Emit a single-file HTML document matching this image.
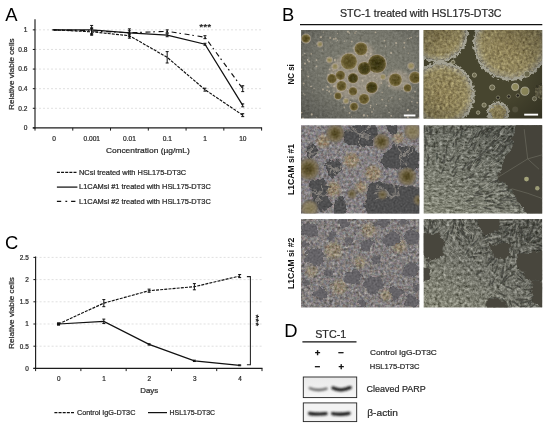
<!DOCTYPE html>
<html lang="en"><head><meta charset="utf-8"><title>Figure</title>
<style>html,body{margin:0;padding:0;background:#fff}svg{display:block;font-family:'Liberation Sans', sans-serif}</style>
</head><body>
<svg width="550" height="428" viewBox="0 0 550 428">
<defs>
<filter id="blur05" x="-20%" y="-20%" width="140%" height="140%"><feGaussianBlur stdDeviation="0.5"/></filter>
<filter id="blur1" x="-20%" y="-20%" width="140%" height="140%"><feGaussianBlur stdDeviation="0.9"/></filter>
<filter id="blur15" x="-20%" y="-20%" width="140%" height="140%"><feGaussianBlur stdDeviation="1.6"/></filter>
<filter id="n00" x="0" y="0" width="100%" height="100%" color-interpolation-filters="sRGB"><feTurbulence type="fractalNoise" baseFrequency="0.4" numOctaves="2" seed="3" result="n"/>
<feColorMatrix in="n" type="matrix" values="0.34 0.33 0.33 0 0  0.34 0.33 0.33 0 0  0.34 0.33 0.33 0 0  0 0 0 0 1" result="g"/>
<feComposite in="SourceGraphic" in2="g" operator="arithmetic" k1="0" k2="1" k3="0.3" k4="-0.15" result="c"/><feComposite in="c" in2="SourceAlpha" operator="in"/></filter>
<filter id="n01" x="0" y="0" width="100%" height="100%" color-interpolation-filters="sRGB"><feTurbulence type="fractalNoise" baseFrequency="0.35" numOctaves="3" seed="5" result="n"/>
<feColorMatrix in="n" type="matrix" values="0.36 0.34 0.3 0 0  0.36 0.34 0.3 0 0  0.3 0.3 0.2 0 0.1  0 0 0 0 1" result="g"/>
<feComposite in="SourceGraphic" in2="g" operator="arithmetic" k1="0" k2="1" k3="0.75" k4="-0.375" result="c"/><feComposite in="c" in2="SourceAlpha" operator="in"/></filter>
<filter id="n10" x="0" y="0" width="100%" height="100%" color-interpolation-filters="sRGB"><feTurbulence type="fractalNoise" baseFrequency="0.37" numOctaves="3" seed="7" result="n"/>
<feColorMatrix in="n" type="matrix" values="0.42 0.32 0.26 0 0  0.29 0.42 0.29 0 0  0.26 0.32 0.42 0 0  0 0 0 0 1" result="g"/>
<feComposite in="SourceGraphic" in2="g" operator="arithmetic" k1="0" k2="1" k3="0.8" k4="-0.4" result="c"/><feComposite in="c" in2="SourceAlpha" operator="in"/></filter>
<filter id="n10b" x="0" y="0" width="100%" height="100%" color-interpolation-filters="sRGB"><feTurbulence type="fractalNoise" baseFrequency="0.5" numOctaves="2" seed="9" result="n"/>
<feColorMatrix in="n" type="matrix" values="0.34 0.33 0.33 0 0  0.34 0.33 0.33 0 0  0.34 0.33 0.33 0 0  0 0 0 0 1" result="g"/>
<feComposite in="SourceGraphic" in2="g" operator="arithmetic" k1="0" k2="1" k3="0.3" k4="-0.15" result="c"/><feComposite in="c" in2="SourceAlpha" operator="in"/></filter>
<filter id="n11" x="0" y="0" width="100%" height="100%" color-interpolation-filters="sRGB"><feTurbulence type="fractalNoise" baseFrequency="0.28 0.42" numOctaves="3" seed="11" result="n"/>
<feColorMatrix in="n" type="matrix" values="0.34 0.33 0.33 0 0  0.34 0.33 0.33 0 0  0.34 0.33 0.33 0 0  0 0 0 0 1" result="g"/>
<feComposite in="SourceGraphic" in2="g" operator="arithmetic" k1="0" k2="1" k3="1.0" k4="-0.5" result="c"/><feComposite in="c" in2="SourceAlpha" operator="in"/></filter>
<filter id="n20" x="0" y="0" width="100%" height="100%" color-interpolation-filters="sRGB"><feTurbulence type="fractalNoise" baseFrequency="0.37" numOctaves="3" seed="13" result="n"/>
<feColorMatrix in="n" type="matrix" values="0.42 0.32 0.26 0 0  0.29 0.42 0.29 0 0  0.26 0.32 0.42 0 0  0 0 0 0 1" result="g"/>
<feComposite in="SourceGraphic" in2="g" operator="arithmetic" k1="0" k2="1" k3="0.8" k4="-0.4" result="c"/><feComposite in="c" in2="SourceAlpha" operator="in"/></filter>
<filter id="n21" x="0" y="0" width="100%" height="100%" color-interpolation-filters="sRGB"><feTurbulence type="fractalNoise" baseFrequency="0.34" numOctaves="3" seed="17" result="n"/>
<feColorMatrix in="n" type="matrix" values="0.34 0.33 0.33 0 0  0.34 0.33 0.33 0 0  0.34 0.33 0.33 0 0  0 0 0 0 1" result="g"/>
<feComposite in="SourceGraphic" in2="g" operator="arithmetic" k1="0" k2="1" k3="1.0" k4="-0.5" result="c"/><feComposite in="c" in2="SourceAlpha" operator="in"/></filter>
<filter id="rough" x="-10%" y="-10%" width="120%" height="120%" color-interpolation-filters="sRGB"><feTurbulence type="fractalNoise" baseFrequency="0.13" numOctaves="3" seed="21" result="t"/><feDisplacementMap in="SourceGraphic" in2="t" scale="9" xChannelSelector="R" yChannelSelector="G" result="d"/><feGaussianBlur in="d" stdDeviation="0.55"/></filter>
<filter id="rough2" x="-10%" y="-10%" width="120%" height="120%" color-interpolation-filters="sRGB"><feTurbulence type="fractalNoise" baseFrequency="0.3" numOctaves="2" seed="31" result="t"/><feDisplacementMap in="SourceGraphic" in2="t" scale="5" xChannelSelector="R" yChannelSelector="G" result="d"/><feGaussianBlur in="d" stdDeviation="0.5"/></filter>
<linearGradient id="blotbg" x1="0" y1="0" x2="0" y2="1"><stop offset="0" stop-color="#e9e9e9"/><stop offset="1" stop-color="#f6f6f6"/></linearGradient>
<radialGradient id="vig" cx="0.45" cy="0.5" r="0.75"><stop offset="0.5" stop-color="#000" stop-opacity="0"/><stop offset="1" stop-color="#000" stop-opacity="0.3"/></radialGradient>
<filter id="blur07" x="-20%" y="-20%" width="140%" height="140%"><feGaussianBlur stdDeviation="0.7"/></filter>
<radialGradient id="bg00" cx="0.55" cy="0.42" r="0.72"><stop offset="0" stop-color="#7e7e71"/><stop offset="0.55" stop-color="#75756b"/><stop offset="1" stop-color="#5a5a54"/></radialGradient>
<radialGradient id="sphA" cx="0.5" cy="0.5" r="0.5"><stop offset="0" stop-color="#554b22"/><stop offset="0.7" stop-color="#665a2e"/><stop offset="1" stop-color="#82764a"/></radialGradient>
<radialGradient id="sphB" cx="0.5" cy="0.5" r="0.5"><stop offset="0" stop-color="#383412"/><stop offset="0.7" stop-color="#4a431c"/><stop offset="1" stop-color="#70643a"/></radialGradient>
<radialGradient id="sphC" cx="0.5" cy="0.5" r="0.5"><stop offset="0" stop-color="#8c8050"/><stop offset="1" stop-color="#a09672"/></radialGradient>
<radialGradient id="sphD" cx="0.5" cy="0.5" r="0.5"><stop offset="0" stop-color="#4c4322"/><stop offset="0.55" stop-color="#5e532e"/><stop offset="1" stop-color="#83775a"/></radialGradient>
<radialGradient id="sphE" cx="0.5" cy="0.5" r="0.5"><stop offset="0" stop-color="#7d7250"/><stop offset="0.6" stop-color="#877c5c"/><stop offset="1" stop-color="#8f866e"/></radialGradient>
<radialGradient id="tan" cx="0.5" cy="0.5" r="0.5"><stop offset="0" stop-color="#8d8056"/><stop offset="0.8" stop-color="#92875e"/><stop offset="1" stop-color="#9b9680"/></radialGradient>
<linearGradient id="bg11" x1="0" y1="1" x2="0.8" y2="0"><stop offset="0" stop-color="#878979"/><stop offset="0.5" stop-color="#73756b"/><stop offset="1" stop-color="#565851"/></linearGradient>
<linearGradient id="bg21" x1="0.1" y1="1" x2="0.9" y2="0"><stop offset="0" stop-color="#888979"/><stop offset="0.45" stop-color="#73746b"/><stop offset="1" stop-color="#595a53"/></linearGradient>
</defs>
<rect width="550" height="428" fill="#fff"/>
<g id="panelA">
<text x="5.2" y="21.0" font-size="18.4" text-anchor="start" fill="#000" >A</text>
<line x1="35.0" x2="261.6" y1="108.29" y2="108.29" stroke="#d2d2d2" stroke-width="0.7" stroke-dasharray="2 2"/>
<line x1="35.0" x2="261.6" y1="88.68" y2="88.68" stroke="#d2d2d2" stroke-width="0.7" stroke-dasharray="2 2"/>
<line x1="35.0" x2="261.6" y1="69.07" y2="69.07" stroke="#d2d2d2" stroke-width="0.7" stroke-dasharray="2 2"/>
<line x1="35.0" x2="261.6" y1="49.46" y2="49.46" stroke="#d2d2d2" stroke-width="0.7" stroke-dasharray="2 2"/>
<line x1="35.0" x2="261.6" y1="29.85" y2="29.85" stroke="#d2d2d2" stroke-width="0.7" stroke-dasharray="2 2"/>
<line x1="35.0" x2="35.0" y1="19.3" y2="128.45000000000002" stroke="#1c1c1c" stroke-width="1.15"/>
<line x1="32.8" x2="262.1" y1="127.9" y2="127.9" stroke="#1c1c1c" stroke-width="1.15"/>
<line x1="35.00" x2="35.00" y1="127.9" y2="130.6" stroke="#1c1c1c" stroke-width="1"/>
<line x1="72.77" x2="72.77" y1="127.9" y2="130.6" stroke="#1c1c1c" stroke-width="1"/>
<line x1="110.53" x2="110.53" y1="127.9" y2="130.6" stroke="#1c1c1c" stroke-width="1"/>
<line x1="148.30" x2="148.30" y1="127.9" y2="130.6" stroke="#1c1c1c" stroke-width="1"/>
<line x1="186.07" x2="186.07" y1="127.9" y2="130.6" stroke="#1c1c1c" stroke-width="1"/>
<line x1="223.83" x2="223.83" y1="127.9" y2="130.6" stroke="#1c1c1c" stroke-width="1"/>
<line x1="261.60" x2="261.60" y1="127.9" y2="130.6" stroke="#1c1c1c" stroke-width="1"/>
<line x1="32.8" x2="35.0" y1="127.90" y2="127.90" stroke="#1c1c1c" stroke-width="1"/>
<text x="27.5" y="130.25" font-size="6.6" text-anchor="end" fill="#2a2a2a" stroke="#2a2a2a" stroke-width="0.22" >0</text>
<line x1="32.8" x2="35.0" y1="108.29" y2="108.29" stroke="#1c1c1c" stroke-width="1"/>
<text x="27.5" y="110.64" font-size="6.6" text-anchor="end" fill="#2a2a2a" stroke="#2a2a2a" stroke-width="0.22" >0.2</text>
<line x1="32.8" x2="35.0" y1="88.68" y2="88.68" stroke="#1c1c1c" stroke-width="1"/>
<text x="27.5" y="91.03" font-size="6.6" text-anchor="end" fill="#2a2a2a" stroke="#2a2a2a" stroke-width="0.22" >0.4</text>
<line x1="32.8" x2="35.0" y1="69.07" y2="69.07" stroke="#1c1c1c" stroke-width="1"/>
<text x="27.5" y="71.42" font-size="6.6" text-anchor="end" fill="#2a2a2a" stroke="#2a2a2a" stroke-width="0.22" >0.6</text>
<line x1="32.8" x2="35.0" y1="49.46" y2="49.46" stroke="#1c1c1c" stroke-width="1"/>
<text x="27.5" y="51.81" font-size="6.6" text-anchor="end" fill="#2a2a2a" stroke="#2a2a2a" stroke-width="0.22" >0.8</text>
<line x1="32.8" x2="35.0" y1="29.85" y2="29.85" stroke="#1c1c1c" stroke-width="1"/>
<text x="27.5" y="32.2" font-size="6.6" text-anchor="end" fill="#2a2a2a" stroke="#2a2a2a" stroke-width="0.22" >1</text>
<text x="53.98" y="141.2" font-size="6.6" text-anchor="middle" fill="#2a2a2a" stroke="#2a2a2a" stroke-width="0.22" >0</text>
<text x="91.75" y="141.2" font-size="6.6" text-anchor="middle" fill="#2a2a2a" stroke="#2a2a2a" stroke-width="0.22" >0.001</text>
<text x="129.52" y="141.2" font-size="6.6" text-anchor="middle" fill="#2a2a2a" stroke="#2a2a2a" stroke-width="0.22" >0.01</text>
<text x="167.28" y="141.2" font-size="6.6" text-anchor="middle" fill="#2a2a2a" stroke="#2a2a2a" stroke-width="0.22" >0.1</text>
<text x="205.05" y="141.2" font-size="6.6" text-anchor="middle" fill="#2a2a2a" stroke="#2a2a2a" stroke-width="0.22" >1</text>
<text x="242.82" y="141.2" font-size="6.6" text-anchor="middle" fill="#2a2a2a" stroke="#2a2a2a" stroke-width="0.22" >10</text>
<text x="106.0" y="152.8" font-size="7.8" text-anchor="start" fill="#2a2a2a" stroke="#2a2a2a" stroke-width="0.22" textLength="83.8" lengthAdjust="spacingAndGlyphs" >Concentration (µg/mL)</text>
<text x="13.6" y="74.2" font-size="7.5" text-anchor="middle" fill="#2a2a2a" stroke="#2a2a2a" stroke-width="0.22" textLength="71.6" lengthAdjust="spacingAndGlyphs" transform="rotate(-90 13.6 74.2)" >Relative viable cells</text>
<polyline points="53.88,29.85 91.65,31.81 129.42,35.73 167.18,57.30 204.95,89.66 242.72,115.15" fill="none" stroke="#111" stroke-width="1.15" stroke-dasharray="3 1.15"/>
<polyline points="53.88,29.85 91.65,29.85 129.42,32.79 167.18,35.24 204.95,44.26 242.72,105.35" fill="none" stroke="#111" stroke-width="1.25"/>
<polyline points="53.88,29.85 91.65,30.83 129.42,32.79 167.18,31.32 204.95,37.20 242.72,88.68" fill="none" stroke="#111" stroke-width="1.15" stroke-dasharray="5 2.8 1.6 3.7"/>
<path d="M52.38 29.85h3" stroke="#111" stroke-width="1.5"/>
<path d="M91.65 28.38V35.24M90.15 28.38h3.0M90.15 35.24h3.0" stroke="#111" stroke-width="1.0" fill="none"/>
<path d="M129.42 33.28V38.18M127.92 33.28h3.0M127.92 38.18h3.0" stroke="#111" stroke-width="1.0" fill="none"/>
<path d="M167.18 51.62V62.99M165.68 51.62h3.0M165.68 62.99h3.0" stroke="#111" stroke-width="1.0" fill="none"/>
<path d="M204.95 88.19V91.13M203.45 88.19h3.0M203.45 91.13h3.0" stroke="#111" stroke-width="1.0" fill="none"/>
<path d="M242.72 113.68V116.62M241.22 113.68h3.0M241.22 116.62h3.0" stroke="#111" stroke-width="1.0" fill="none"/>
<path d="M91.65 25.44V34.26M90.15 25.44h3.0M90.15 34.26h3.0" stroke="#111" stroke-width="1.0" fill="none"/>
<path d="M129.42 28.87V36.71M127.92 28.87h3.0M127.92 36.71h3.0" stroke="#111" stroke-width="1.0" fill="none"/>
<path d="M167.18 33.77V36.71M165.68 33.77h3.0M165.68 36.71h3.0" stroke="#111" stroke-width="1.0" fill="none"/>
<path d="M204.95 43.28V45.24M203.45 43.28h3.0M203.45 45.24h3.0" stroke="#111" stroke-width="1.0" fill="none"/>
<path d="M242.72 103.88V106.82M241.22 103.88h3.0M241.22 106.82h3.0" stroke="#111" stroke-width="1.0" fill="none"/>
<path d="M91.65 27.89V33.77M90.15 27.89h3.0M90.15 33.77h3.0" stroke="#111" stroke-width="1.0" fill="none"/>
<path d="M129.42 30.83V34.75M127.92 30.83h3.0M127.92 34.75h3.0" stroke="#111" stroke-width="1.0" fill="none"/>
<path d="M167.18 29.85V32.79M165.68 29.85h3.0M165.68 32.79h3.0" stroke="#111" stroke-width="1.0" fill="none"/>
<path d="M204.95 35.73V38.67M203.45 35.73h3.0M203.45 38.67h3.0" stroke="#111" stroke-width="1.0" fill="none"/>
<path d="M242.72 85.74V91.62M241.22 85.74h3.0M241.22 91.62h3.0" stroke="#111" stroke-width="1.0" fill="none"/>
<text x="205.2" y="30.0" font-size="8.6" text-anchor="middle" fill="#222" textLength="11.8" lengthAdjust="spacingAndGlyphs" font-weight="bold" >***</text>
<line x1="56.9" x2="77.6" y1="172.4" y2="172.4" stroke="#111" stroke-width="1.15" stroke-dasharray="3 1.15"/>
<line x1="56.9" x2="77.4" y1="187.1" y2="187.1" stroke="#111" stroke-width="1.25"/>
<line x1="56.9" x2="77.6" y1="201.4" y2="201.4" stroke="#111" stroke-width="1.15" stroke-dasharray="4.3 4.2 1.8 3.9"/>
<text x="79.0" y="174.7" font-size="7.0" text-anchor="start" fill="#2a2a2a" stroke="#2a2a2a" stroke-width="0.22" textLength="107.2" lengthAdjust="spacingAndGlyphs" >NCsi treated with HSL175-DT3C</text>
<text x="79.0" y="189.4" font-size="7.0" text-anchor="start" fill="#2a2a2a" stroke="#2a2a2a" stroke-width="0.22" textLength="131.8" lengthAdjust="spacingAndGlyphs" >L1CAMsi #1 treated with HSL175-DT3C</text>
<text x="79.0" y="203.6" font-size="7.0" text-anchor="start" fill="#2a2a2a" stroke="#2a2a2a" stroke-width="0.22" textLength="131.8" lengthAdjust="spacingAndGlyphs" >L1CAMsi #2 treated with HSL175-DT3C</text>
</g>
<g id="panelC">
<text x="5.0" y="248.9" font-size="18.4" text-anchor="start" fill="#000" >C</text>
<line x1="35.6" x2="262.0" y1="346.20" y2="346.20" stroke="#d2d2d2" stroke-width="0.7" stroke-dasharray="2 2"/>
<line x1="35.6" x2="262.0" y1="324.00" y2="324.00" stroke="#d2d2d2" stroke-width="0.7" stroke-dasharray="2 2"/>
<line x1="35.6" x2="262.0" y1="301.80" y2="301.80" stroke="#d2d2d2" stroke-width="0.7" stroke-dasharray="2 2"/>
<line x1="35.6" x2="262.0" y1="279.60" y2="279.60" stroke="#d2d2d2" stroke-width="0.7" stroke-dasharray="2 2"/>
<line x1="35.6" x2="262.0" y1="257.40" y2="257.40" stroke="#d2d2d2" stroke-width="0.7" stroke-dasharray="2 2"/>
<line x1="35.6" x2="35.6" y1="256.5" y2="368.95" stroke="#1c1c1c" stroke-width="1.15"/>
<line x1="33.4" x2="262.5" y1="368.4" y2="368.4" stroke="#1c1c1c" stroke-width="1.15"/>
<line x1="35.60" x2="35.60" y1="368.4" y2="371.09999999999997" stroke="#1c1c1c" stroke-width="1"/>
<line x1="80.88" x2="80.88" y1="368.4" y2="371.09999999999997" stroke="#1c1c1c" stroke-width="1"/>
<line x1="126.16" x2="126.16" y1="368.4" y2="371.09999999999997" stroke="#1c1c1c" stroke-width="1"/>
<line x1="171.44" x2="171.44" y1="368.4" y2="371.09999999999997" stroke="#1c1c1c" stroke-width="1"/>
<line x1="216.72" x2="216.72" y1="368.4" y2="371.09999999999997" stroke="#1c1c1c" stroke-width="1"/>
<line x1="262.00" x2="262.00" y1="368.4" y2="371.09999999999997" stroke="#1c1c1c" stroke-width="1"/>
<line x1="33.4" x2="35.6" y1="368.40" y2="368.40" stroke="#1c1c1c" stroke-width="1"/>
<text x="28.7" y="370.7" font-size="6.4" text-anchor="end" fill="#2a2a2a" stroke="#2a2a2a" stroke-width="0.22" >0</text>
<line x1="33.4" x2="35.6" y1="346.20" y2="346.20" stroke="#1c1c1c" stroke-width="1"/>
<text x="28.7" y="348.5" font-size="6.4" text-anchor="end" fill="#2a2a2a" stroke="#2a2a2a" stroke-width="0.22" >0.5</text>
<line x1="33.4" x2="35.6" y1="324.00" y2="324.00" stroke="#1c1c1c" stroke-width="1"/>
<text x="28.7" y="326.3" font-size="6.4" text-anchor="end" fill="#2a2a2a" stroke="#2a2a2a" stroke-width="0.22" >1</text>
<line x1="33.4" x2="35.6" y1="301.80" y2="301.80" stroke="#1c1c1c" stroke-width="1"/>
<text x="28.7" y="304.1" font-size="6.4" text-anchor="end" fill="#2a2a2a" stroke="#2a2a2a" stroke-width="0.22" >1.5</text>
<line x1="33.4" x2="35.6" y1="279.60" y2="279.60" stroke="#1c1c1c" stroke-width="1"/>
<text x="28.7" y="281.9" font-size="6.4" text-anchor="end" fill="#2a2a2a" stroke="#2a2a2a" stroke-width="0.22" >2</text>
<line x1="33.4" x2="35.6" y1="257.40" y2="257.40" stroke="#1c1c1c" stroke-width="1"/>
<text x="28.7" y="259.7" font-size="6.4" text-anchor="end" fill="#2a2a2a" stroke="#2a2a2a" stroke-width="0.22" >2.5</text>
<text x="58.84" y="380.6" font-size="6.4" text-anchor="middle" fill="#2a2a2a" stroke="#2a2a2a" stroke-width="0.22" >0</text>
<text x="104.12" y="380.6" font-size="6.4" text-anchor="middle" fill="#2a2a2a" stroke="#2a2a2a" stroke-width="0.22" >1</text>
<text x="149.4" y="380.6" font-size="6.4" text-anchor="middle" fill="#2a2a2a" stroke="#2a2a2a" stroke-width="0.22" >2</text>
<text x="194.68" y="380.6" font-size="6.4" text-anchor="middle" fill="#2a2a2a" stroke="#2a2a2a" stroke-width="0.22" >3</text>
<text x="239.96" y="380.6" font-size="6.4" text-anchor="middle" fill="#2a2a2a" stroke="#2a2a2a" stroke-width="0.22" >4</text>
<text x="140.2" y="393.4" font-size="7.6" text-anchor="start" fill="#2a2a2a" stroke="#2a2a2a" stroke-width="0.22" textLength="18.0" lengthAdjust="spacingAndGlyphs" >Days</text>
<text x="14.2" y="313.0" font-size="7.5" text-anchor="middle" fill="#2a2a2a" stroke="#2a2a2a" stroke-width="0.22" textLength="71.8" lengthAdjust="spacingAndGlyphs" transform="rotate(-90 14.2 313.0)" >Relative viable cells</text>
<polyline points="58.54,324.00 103.82,303.13 149.10,290.70 194.38,286.70 239.66,276.05" fill="none" stroke="#111" stroke-width="1.15" stroke-dasharray="3 1.15"/>
<polyline points="58.54,324.00 103.82,321.34 149.10,344.42 194.38,360.85 239.66,365.29" fill="none" stroke="#111" stroke-width="1.25"/>
<path d="M58.54 323.11V324.89M57.04 323.11h3.0M57.04 324.89h3.0" stroke="#111" stroke-width="1.0" fill="none"/>
<path d="M103.82 299.58V306.68M102.32 299.58h3.0M102.32 306.68h3.0" stroke="#111" stroke-width="1.0" fill="none"/>
<path d="M149.10 289.15V292.25M147.60 289.15h3.0M147.60 292.25h3.0" stroke="#111" stroke-width="1.0" fill="none"/>
<path d="M194.38 283.60V289.81M192.88 283.60h3.0M192.88 289.81h3.0" stroke="#111" stroke-width="1.0" fill="none"/>
<path d="M239.66 274.49V277.60M238.16 274.49h3.0M238.16 277.60h3.0" stroke="#111" stroke-width="1.0" fill="none"/>
<path d="M58.54 323.11V324.89M57.04 323.11h3.0M57.04 324.89h3.0" stroke="#111" stroke-width="1.0" fill="none"/>
<path d="M103.82 319.12V323.56M102.32 319.12h3.0M102.32 323.56h3.0" stroke="#111" stroke-width="1.0" fill="none"/>
<path d="M149.10 343.76V345.09M147.60 343.76h3.0M147.60 345.09h3.0" stroke="#111" stroke-width="1.0" fill="none"/>
<path d="M194.38 360.19V361.52M192.88 360.19h3.0M192.88 361.52h3.0" stroke="#111" stroke-width="1.0" fill="none"/>
<path d="M239.66 364.85V365.74M238.16 364.85h3.0M238.16 365.74h3.0" stroke="#111" stroke-width="1.0" fill="none"/>
<rect x="57.04" y="322.80" width="3" height="2.4" fill="#111"/>
<path d="M246.9 276.6H250.4V364.7H246.9" fill="none" stroke="#222" stroke-width="1.05"/>
<text x="252.9" y="320.3" font-size="8.6" text-anchor="middle" fill="#222" textLength="11.8" lengthAdjust="spacingAndGlyphs" font-weight="bold" transform="rotate(90 252.9 320.3)" >***</text>
<line x1="54.4" x2="75" y1="412.6" y2="412.6" stroke="#111" stroke-width="1.15" stroke-dasharray="3 1.15"/>
<text x="76.9" y="414.9" font-size="6.9" text-anchor="start" fill="#2a2a2a" stroke="#2a2a2a" stroke-width="0.22" textLength="58.5" lengthAdjust="spacingAndGlyphs" >Control IgG-DT3C</text>
<line x1="148" x2="167" y1="412.6" y2="412.6" stroke="#111" stroke-width="1.25"/>
<text x="169.6" y="414.9" font-size="6.9" text-anchor="start" fill="#2a2a2a" stroke="#2a2a2a" stroke-width="0.22" textLength="45.4" lengthAdjust="spacingAndGlyphs" >HSL175-DT3C</text>
</g>
<g id="panelB">
<text x="282.0" y="20.6" font-size="18.4" text-anchor="start" fill="#000" >B</text>
<text x="340.0" y="17.4" font-size="10.1" text-anchor="start" fill="#2a2a2a" stroke="#2a2a2a" stroke-width="0.22" textLength="161.5" lengthAdjust="spacingAndGlyphs" >STC-1 treated with HSL175-DT3C</text>
<line x1="300.0" x2="542.3" y1="24.6" y2="24.6" stroke="#111" stroke-width="1.25"/>
<text x="293.9" y="74.3" font-size="8.2" text-anchor="middle" fill="#111" textLength="20.2" lengthAdjust="spacingAndGlyphs" font-weight="bold" transform="rotate(-90 293.9 74.3)" >NC si</text>
<text x="294.0" y="169.4" font-size="8.4" text-anchor="middle" fill="#111" textLength="51.1" lengthAdjust="spacingAndGlyphs" font-weight="bold" transform="rotate(-90 294.0 169.4)" >L1CAM si #1</text>
<text x="294.0" y="263.4" font-size="8.4" text-anchor="middle" fill="#111" textLength="51.3" lengthAdjust="spacingAndGlyphs" font-weight="bold" transform="rotate(-90 294.0 263.4)" >L1CAM si #2</text>
</g>
<g id="micro">
<clipPath id="cp00"><rect x="301.0" y="30.0" width="118.25" height="88.60"/></clipPath>
<clipPath id="cp01"><rect x="423.7" y="30.0" width="118.45" height="88.60"/></clipPath>
<clipPath id="cp10"><rect x="301.0" y="125.2" width="118.25" height="88.40"/></clipPath>
<clipPath id="cp11"><rect x="423.7" y="125.2" width="118.45" height="88.40"/></clipPath>
<clipPath id="cp20"><rect x="301.0" y="218.9" width="118.25" height="88.70"/></clipPath>
<clipPath id="cp21"><rect x="423.7" y="218.9" width="118.45" height="88.70"/></clipPath>
<g clip-path="url(#cp00)"><g filter="url(#n00)">
<rect x="298.0" y="27.0" width="124.25" height="94.60" fill="url(#bg00)"/>
<g filter="url(#blur15)" fill="#a39a8a" opacity="0.75"><ellipse cx="356" cy="76" rx="27" ry="24"/><ellipse cx="398" cy="80" rx="12" ry="10"/><ellipse cx="364" cy="52" rx="10" ry="9"/></g>
<g fill="#c6b8a2" opacity="0.7"><circle cx="369.9" cy="76.1" r="0.68"/><circle cx="392.9" cy="67.5" r="0.37"/><circle cx="350.4" cy="101.7" r="0.78"/><circle cx="385.5" cy="46.1" r="0.71"/><circle cx="367.5" cy="52.0" r="0.99"/><circle cx="314.1" cy="88.3" r="0.58"/><circle cx="322.9" cy="89.5" r="0.99"/><circle cx="316.5" cy="66.4" r="0.94"/><circle cx="349.4" cy="32.9" r="0.75"/><circle cx="396.1" cy="43.1" r="0.98"/><circle cx="357.8" cy="70.0" r="0.84"/><circle cx="399.8" cy="99.0" r="0.79"/><circle cx="327.5" cy="86.8" r="1.00"/><circle cx="330.2" cy="37.9" r="1.03"/><circle cx="335.8" cy="38.4" r="1.01"/><circle cx="343.0" cy="103.3" r="0.53"/><circle cx="330.9" cy="42.1" r="0.44"/><circle cx="408.4" cy="53.2" r="0.65"/><circle cx="365.3" cy="64.2" r="0.58"/><circle cx="322.6" cy="50.0" r="0.59"/><circle cx="372.8" cy="71.8" r="0.71"/><circle cx="409.3" cy="38.7" r="0.40"/><circle cx="393.4" cy="75.8" r="1.00"/><circle cx="356.1" cy="31.6" r="0.68"/><circle cx="302.8" cy="55.0" r="0.59"/><circle cx="412.0" cy="97.1" r="0.62"/><circle cx="384.6" cy="55.9" r="0.47"/><circle cx="370.4" cy="107.4" r="0.73"/><circle cx="301.7" cy="43.4" r="0.44"/><circle cx="407.4" cy="38.7" r="0.47"/><circle cx="375.5" cy="32.3" r="0.90"/><circle cx="407.3" cy="30.6" r="0.45"/><circle cx="351.8" cy="41.6" r="1.02"/><circle cx="367.4" cy="115.8" r="0.87"/><circle cx="363.9" cy="86.3" r="0.69"/><circle cx="349.5" cy="112.9" r="1.00"/><circle cx="388.6" cy="100.9" r="0.61"/><circle cx="360.2" cy="92.1" r="0.36"/><circle cx="407.8" cy="117.3" r="1.00"/><circle cx="382.2" cy="92.5" r="0.76"/><circle cx="409.5" cy="87.3" r="0.96"/><circle cx="361.7" cy="51.8" r="0.56"/><circle cx="418.6" cy="118.0" r="0.76"/><circle cx="391.9" cy="97.7" r="0.67"/><circle cx="355.0" cy="33.1" r="0.88"/><circle cx="417.2" cy="102.8" r="1.00"/><circle cx="376.8" cy="78.3" r="0.58"/><circle cx="344.5" cy="41.1" r="0.55"/><circle cx="339.8" cy="80.9" r="0.81"/><circle cx="328.2" cy="75.0" r="0.90"/><circle cx="339.4" cy="95.7" r="0.50"/><circle cx="316.8" cy="117.5" r="0.41"/><circle cx="336.5" cy="41.3" r="0.35"/><circle cx="347.4" cy="89.8" r="0.75"/><circle cx="374.7" cy="75.3" r="0.53"/><circle cx="333.3" cy="70.4" r="0.95"/><circle cx="366.5" cy="55.2" r="1.05"/><circle cx="401.7" cy="89.0" r="0.51"/><circle cx="384.5" cy="40.6" r="0.89"/><circle cx="336.4" cy="77.2" r="0.96"/><circle cx="415.6" cy="77.9" r="0.68"/><circle cx="389.2" cy="85.9" r="1.04"/><circle cx="303.7" cy="83.6" r="1.02"/><circle cx="323.3" cy="32.1" r="0.62"/><circle cx="303.0" cy="118.4" r="1.00"/><circle cx="372.0" cy="111.9" r="0.85"/><circle cx="403.0" cy="89.8" r="0.66"/><circle cx="388.1" cy="76.3" r="0.71"/><circle cx="376.5" cy="104.3" r="0.59"/><circle cx="371.6" cy="115.1" r="0.38"/><circle cx="409.4" cy="38.2" r="0.52"/><circle cx="346.6" cy="41.1" r="0.41"/><circle cx="305.0" cy="63.6" r="1.03"/><circle cx="364.1" cy="114.8" r="0.79"/><circle cx="361.9" cy="37.1" r="0.46"/><circle cx="337.5" cy="33.6" r="0.50"/><circle cx="391.1" cy="115.9" r="0.82"/><circle cx="416.8" cy="69.2" r="0.64"/><circle cx="382.3" cy="99.6" r="0.94"/><circle cx="304.8" cy="94.8" r="0.62"/><circle cx="307.1" cy="75.7" r="0.46"/><circle cx="381.0" cy="115.0" r="0.42"/><circle cx="385.0" cy="58.5" r="0.70"/><circle cx="345.2" cy="98.8" r="1.00"/><circle cx="389.1" cy="112.4" r="0.63"/><circle cx="386.0" cy="105.7" r="0.80"/><circle cx="335.1" cy="67.6" r="0.89"/><circle cx="417.2" cy="36.2" r="0.62"/><circle cx="391.1" cy="53.0" r="1.01"/><circle cx="362.5" cy="80.6" r="1.03"/><circle cx="304.8" cy="53.5" r="0.64"/><circle cx="331.5" cy="78.7" r="1.05"/><circle cx="360.4" cy="100.7" r="0.44"/><circle cx="316.5" cy="60.1" r="0.94"/><circle cx="347.0" cy="67.8" r="0.70"/><circle cx="411.2" cy="37.6" r="0.78"/><circle cx="311.8" cy="114.4" r="1.03"/><circle cx="408.2" cy="90.4" r="0.39"/><circle cx="381.4" cy="83.2" r="0.91"/><circle cx="312.5" cy="92.0" r="0.46"/><circle cx="404.4" cy="42.7" r="0.96"/><circle cx="311.0" cy="86.5" r="0.81"/><circle cx="347.9" cy="31.8" r="1.02"/><circle cx="413.8" cy="98.0" r="0.54"/><circle cx="308.3" cy="76.5" r="0.84"/><circle cx="333.9" cy="39.0" r="0.92"/><circle cx="351.5" cy="44.1" r="0.40"/><circle cx="309.1" cy="61.6" r="1.00"/><circle cx="411.8" cy="101.7" r="0.78"/><circle cx="353.1" cy="48.1" r="0.75"/><circle cx="342.2" cy="96.0" r="0.70"/><circle cx="349.7" cy="62.0" r="0.91"/><circle cx="363.7" cy="115.6" r="1.01"/><circle cx="337.4" cy="40.2" r="0.61"/><circle cx="354.8" cy="82.9" r="0.64"/><circle cx="416.8" cy="81.9" r="0.57"/><circle cx="321.0" cy="37.2" r="0.88"/><circle cx="404.2" cy="47.4" r="0.80"/><circle cx="381.5" cy="59.6" r="0.84"/><circle cx="329.6" cy="69.3" r="0.91"/><circle cx="395.9" cy="45.3" r="0.52"/><circle cx="407.9" cy="110.1" r="1.03"/><circle cx="307.7" cy="72.0" r="0.43"/><circle cx="330.1" cy="66.2" r="0.36"/><circle cx="361.5" cy="48.8" r="0.70"/><circle cx="307.7" cy="59.9" r="0.79"/><circle cx="404.7" cy="115.5" r="0.37"/><circle cx="373.5" cy="108.9" r="0.59"/><circle cx="315.1" cy="45.2" r="0.45"/><circle cx="370.7" cy="105.6" r="0.82"/><circle cx="327.0" cy="90.4" r="0.82"/><circle cx="329.2" cy="91.5" r="0.95"/><circle cx="334.8" cy="60.1" r="1.05"/><circle cx="328.9" cy="87.7" r="0.65"/><circle cx="417.2" cy="109.0" r="0.62"/><circle cx="415.0" cy="91.8" r="0.83"/><circle cx="303.6" cy="93.8" r="0.62"/><circle cx="330.8" cy="94.0" r="0.78"/><circle cx="311.2" cy="53.9" r="0.83"/><circle cx="301.6" cy="112.6" r="0.86"/><circle cx="419.2" cy="98.1" r="0.67"/><circle cx="320.7" cy="37.3" r="1.02"/><circle cx="301.5" cy="69.3" r="0.73"/><circle cx="349.9" cy="91.6" r="0.58"/><circle cx="370.8" cy="54.1" r="0.93"/><circle cx="334.0" cy="91.7" r="0.68"/><circle cx="334.1" cy="86.2" r="0.95"/><circle cx="344.4" cy="107.5" r="0.90"/><circle cx="303.3" cy="85.7" r="0.41"/><circle cx="351.5" cy="116.8" r="0.58"/></g>
<g filter="url(#blur05)">
<circle cx="306" cy="38.6" r="5.0" fill="#ac9f8c" opacity="0.75"/>
<circle cx="361" cy="48.9" r="7.300000000000001" fill="#ac9f8c" opacity="0.75"/>
<circle cx="348.9" cy="61.5" r="8.9" fill="#ac9f8c" opacity="0.75"/>
<circle cx="377" cy="63.8" r="9.9" fill="#ac9f8c" opacity="0.75"/>
<circle cx="364.4" cy="68.4" r="7.300000000000001" fill="#ac9f8c" opacity="0.75"/>
<circle cx="395.4" cy="79.8" r="7.300000000000001" fill="#ac9f8c" opacity="0.75"/>
<circle cx="353" cy="78.2" r="5.9" fill="#ac9f8c" opacity="0.75"/>
<circle cx="340.4" cy="75.3" r="5.5" fill="#ac9f8c" opacity="0.75"/>
<circle cx="332" cy="78.7" r="5.5" fill="#ac9f8c" opacity="0.75"/>
<circle cx="341.5" cy="86" r="5.9" fill="#ac9f8c" opacity="0.75"/>
<circle cx="371.8" cy="87.4" r="6.6000000000000005" fill="#ac9f8c" opacity="0.75"/>
<circle cx="353" cy="91.3" r="5.0" fill="#ac9f8c" opacity="0.75"/>
<circle cx="338" cy="95.9" r="4.3" fill="#ac9f8c" opacity="0.75"/>
<circle cx="364" cy="98.9" r="5.9" fill="#ac9f8c" opacity="0.75"/>
<circle cx="354" cy="106.6" r="4.8" fill="#ac9f8c" opacity="0.75"/>
<circle cx="407.5" cy="87.9" r="4.6000000000000005" fill="#ac9f8c" opacity="0.75"/>
<circle cx="415" cy="77.5" r="6.6000000000000005" fill="#ac9f8c" opacity="0.75"/>
<circle cx="319.8" cy="44.3" r="3.1999999999999997" fill="#ac9f8c" opacity="0.75"/>
<circle cx="329.5" cy="60" r="3.4" fill="#ac9f8c" opacity="0.75"/>
<circle cx="411" cy="66" r="3.6999999999999997" fill="#ac9f8c" opacity="0.75"/>
<circle cx="335" cy="66.5" r="3.5" fill="#ac9f8c" opacity="0.75"/>
<circle cx="346" cy="101" r="3.3" fill="#ac9f8c" opacity="0.75"/>
<circle cx="383" cy="77" r="3.3" fill="#ac9f8c" opacity="0.75"/>
<circle cx="306" cy="38.6" r="4.1" fill="url(#sphA)"/>
<circle cx="361" cy="48.9" r="6.4" fill="url(#sphA)"/>
<circle cx="348.9" cy="61.5" r="8" fill="url(#sphA)"/>
<circle cx="377" cy="63.8" r="9" fill="url(#sphB)"/>
<circle cx="364.4" cy="68.4" r="6.4" fill="url(#sphB)"/>
<circle cx="395.4" cy="79.8" r="6.4" fill="url(#sphA)"/>
<circle cx="353" cy="78.2" r="5" fill="url(#sphB)"/>
<circle cx="340.4" cy="75.3" r="4.6" fill="url(#sphA)"/>
<circle cx="332" cy="78.7" r="4.6" fill="url(#sphA)"/>
<circle cx="341.5" cy="86" r="5" fill="url(#sphA)"/>
<circle cx="371.8" cy="87.4" r="5.7" fill="url(#sphB)"/>
<circle cx="353" cy="91.3" r="4.1" fill="url(#sphA)"/>
<circle cx="338" cy="95.9" r="3.4" fill="url(#sphA)"/>
<circle cx="364" cy="98.9" r="5" fill="url(#sphA)"/>
<circle cx="354" cy="106.6" r="3.9" fill="url(#sphA)"/>
<circle cx="407.5" cy="87.9" r="3.7" fill="url(#sphA)"/>
<circle cx="415" cy="77.5" r="5.7" fill="url(#sphA)"/>
<circle cx="319.8" cy="44.3" r="2.3" fill="url(#sphC)"/>
<circle cx="329.5" cy="60" r="2.5" fill="url(#sphC)"/>
<circle cx="411" cy="66" r="2.8" fill="url(#sphC)"/>
<circle cx="335" cy="66.5" r="2.6" fill="url(#sphC)"/>
<circle cx="346" cy="101" r="2.4" fill="url(#sphC)"/>
<circle cx="383" cy="77" r="2.4" fill="url(#sphC)"/>
</g>
</g><rect x="403.8" y="114.5" width="11.6" height="1.9" fill="#fff"/></g>
<g clip-path="url(#cp01)">
<rect x="420.7" y="27.0" width="124.45" height="94.60" fill="#47452f"/>
<g filter="url(#rough2)">
<circle cx="437.9" cy="32.1" r="30.5" fill="#a5a394"/>
<circle cx="510.9" cy="42.9" r="38.0" fill="#a5a394"/>
<circle cx="442.2" cy="94.4" r="32.6" fill="#a5a394"/>
<circle cx="498.0" cy="112.6" r="11.2" fill="#a5a394"/>
</g>
<g filter="url(#n01)"><g filter="url(#rough2)">
<circle cx="437.9" cy="32.1" r="27.9" fill="url(#tan)"/>
<circle cx="510.9" cy="42.9" r="35.4" fill="url(#tan)"/>
<circle cx="442.2" cy="94.4" r="30.0" fill="url(#tan)"/>
<circle cx="498.0" cy="112.6" r="8.6" fill="url(#tan)"/>
<circle cx="541.6" cy="92.2" r="7.7" fill="#67634a"/>
</g></g>
<g filter="url(#blur05)">
<circle cx="492.2" cy="87.5" r="2.6" fill="#6d6a50" stroke="#a8a58c" stroke-width="0.9"/>
<circle cx="498.0" cy="97.6" r="1.7" fill="#26241a" stroke="#8c8970" stroke-width="0.8"/>
<circle cx="508.8" cy="96.5" r="1.7" fill="#26241a" stroke="#8c8970" stroke-width="0.8"/>
<circle cx="517.8" cy="95.5" r="1.7" fill="#26241a" stroke="#8c8970" stroke-width="0.8"/>
<circle cx="515.2" cy="86.9" r="3.6" fill="#8f8a5c" stroke="#b4b19c" stroke-width="0.9"/>
<circle cx="524.9" cy="91.2" r="4.1" fill="#8f8a5c" stroke="#b4b19c" stroke-width="0.9"/>
<circle cx="527.0" cy="74.0" r="3.0" fill="#6d6a50" stroke="#a8a58c" stroke-width="0.9"/>
<circle cx="534.5" cy="98.7" r="2.1" fill="#6d6a50" stroke="#a8a58c" stroke-width="0.9"/>
<circle cx="474.4" cy="75.1" r="2.1" fill="#6d6a50" stroke="#a8a58c" stroke-width="0.9"/>
<circle cx="484.1" cy="105.1" r="2.1" fill="#6d6a50" stroke="#a8a58c" stroke-width="0.9"/>
<circle cx="453.0" cy="62.2" r="1.9" fill="#6d6a50" stroke="#a8a58c" stroke-width="0.9"/>
<circle cx="515.2" cy="109.4" r="3.0" fill="#5d5a44"/>
<circle cx="478.1" cy="112.6" r="1.7" fill="#6d6a50" stroke="#a8a58c" stroke-width="0.9"/>
</g>
<rect x="423.7" y="30.0" width="118.45" height="88.60" fill="url(#vig)"/>
<rect x="524.2" y="113.7" width="13.9" height="1.9" fill="#fff"/></g>
<g clip-path="url(#cp10)">
<g filter="url(#n10)">
<rect x="298.0" y="122.2" width="124.25" height="94.40" fill="#848082"/>
<g filter="url(#blur15)" fill="#96866c" opacity="0.9">
<circle cx="351.4" cy="160.4" r="7.7"/>
<circle cx="372.9" cy="173.3" r="7.7"/>
<circle cx="333.2" cy="189.4" r="7.3"/>
<circle cx="361.1" cy="187.2" r="5.6"/>
<circle cx="323.5" cy="141.1" r="6.4"/>
<circle cx="398.6" cy="137.9" r="5.4"/>
</g></g>
<g filter="url(#n10b)"><g filter="url(#rough)">
<polygon points="342.8,136.8 347.1,129.3 356.8,123.9 376.1,123.9 377.8,133.6 372.9,141.7 365.4,149.0 355.7,145.4 347.1,144.3" fill="#4f4f50" />
<polygon points="306.4,146.5 313.9,144.3 318.2,148.6 316.0,156.1 308.5,157.2 304.9,152.5" fill="#4f4f50" />
<polygon points="325.7,162.6 335.3,158.9 343.3,163.6 341.1,171.1 333.2,179.1 326.3,174.8" fill="#4f4f50" />
<polygon points="383.6,152.9 393.3,145.4 408.3,146.5 421.2,151.8 421.2,167.9 408.3,171.1 397.6,168.6 386.8,168.6 381.0,161.5" fill="#4f4f50" />
<polygon points="367.5,186.2 376.1,180.8 391.1,184.0 401.9,187.7 421.2,187.2 421.2,216.2 366.5,216.2 364.9,200.1" fill="#4f4f50" />
<polygon points="310.7,181.9 321.4,178.6 328.9,187.2 327.8,195.8 331.5,206.5 320.3,210.2 312.4,200.1" fill="#4f4f50" />
<polygon points="385.8,123.9 395.8,123.9 396.7,131.4 389.0,134.0" fill="#4f4f50" />
<polygon points="333.2,200.5 343.9,198.0 347.4,206.5 342.2,216.2 332.8,216.2" fill="#4f4f50" />
<path d="M360.0 135.7Q355.6 129.9 346.7 129.7M360.0 135.7Q356.7 128.7 347.5 126.6M360.0 135.7Q367.4 132.4 369.8 122.8M360.0 135.7Q366.4 133.0 368.7 124.9M360.0 135.7Q364.5 137.5 369.7 134.6M360.0 135.7Q364.4 139.0 370.9 137.3M360.0 135.7Q357.8 142.6 362.7 149.8M401.9 158.3Q406.7 154.6 406.8 147.2M401.9 158.3Q410.8 156.2 415.5 146.0M401.9 158.3Q405.6 154.0 404.4 147.3M401.9 158.3Q408.7 153.9 409.7 144.0M401.9 158.3Q401.6 149.7 393.3 143.5M401.9 158.3Q397.4 164.6 400.1 173.8M401.9 158.3Q402.0 163.6 407.2 167.6M393.3 198.0Q385.0 194.2 375.1 199.3M393.3 198.0Q385.6 191.4 373.6 193.7M393.3 198.0Q388.4 189.0 376.1 186.9M393.3 198.0Q396.6 188.4 390.0 178.0M393.3 198.0Q399.7 193.0 399.8 183.1M393.3 198.0Q385.6 190.8 372.9 192.9M393.3 198.0Q387.2 189.9 374.8 189.7M321.4 193.7Q318.4 189.9 312.4 189.9M321.4 193.7Q323.0 189.3 320.0 184.6M321.4 193.7Q319.2 198.0 321.7 203.4M321.4 193.7Q317.6 195.8 316.7 201.1M321.4 193.7Q325.0 194.9 329.0 192.4M321.4 193.7Q318.2 197.2 319.2 203.0M321.4 193.7Q315.2 191.1 308.0 195.1M334.3 169.0Q336.4 170.5 339.5 169.5M334.3 169.0Q331.3 168.6 328.8 171.2M334.3 169.0Q338.9 169.7 343.0 165.7M334.3 169.0Q332.2 166.9 328.6 167.2M334.3 169.0Q332.5 165.4 327.7 164.4M334.3 169.0Q337.4 171.4 342.0 170.2M334.3 169.0Q335.3 173.2 340.1 175.3M311.7 150.8Q313.1 149.0 312.5 146.3M311.7 150.8Q310.2 153.2 311.4 156.4M311.7 150.8Q312.2 153.2 315.0 154.6M311.7 150.8Q310.8 152.5 311.7 154.7M311.7 150.8Q309.0 149.3 305.5 150.9M311.7 150.8Q314.4 152.9 318.5 152.0M311.7 150.8Q311.7 148.1 309.1 146.1" stroke="#8e8a84" stroke-width="1.1" fill="none" opacity="0.85"/>
</g></g>
<g filter="url(#n10b)"><g filter="url(#blur1)">
<circle cx="335.3" cy="133.6" r="9.5" fill="#8c8066" opacity="0.9"/>
<circle cx="335.3" cy="133.6" r="6.9" fill="url(#sphD)"/>
<circle cx="381.5" cy="141.7" r="8.6" fill="#8c8066" opacity="0.9"/>
<circle cx="381.5" cy="141.7" r="6.0" fill="url(#sphD)"/>
<circle cx="308.5" cy="169.0" r="11.2" fill="#8c8066" opacity="0.9"/>
<circle cx="308.5" cy="169.0" r="8.6" fill="url(#sphD)"/>
<circle cx="407.2" cy="176.5" r="9.5" fill="#8c8066" opacity="0.9"/>
<circle cx="407.2" cy="176.5" r="6.9" fill="url(#sphD)"/>
<circle cx="412.6" cy="131.4" r="9.0" fill="#8c8066" opacity="0.9"/>
<circle cx="412.6" cy="131.4" r="6.4" fill="url(#sphE)"/>
<circle cx="309.6" cy="208.7" r="9.0" fill="#8c8066" opacity="0.9"/>
<circle cx="309.6" cy="208.7" r="6.4" fill="url(#sphE)"/>
<circle cx="352.1" cy="193.7" r="5.2" fill="#8c8066" opacity="0.9"/>
<circle cx="352.1" cy="193.7" r="2.6" fill="url(#sphD)"/>
<circle cx="382.5" cy="194.7" r="5.2" fill="#8c8066" opacity="0.9"/>
<circle cx="382.5" cy="194.7" r="2.6" fill="url(#sphD)"/>
<circle cx="418.6" cy="200.1" r="5.8" fill="#8c8066" opacity="0.9"/>
<circle cx="418.6" cy="200.1" r="3.2" fill="url(#sphD)"/>
</g></g>
</g>
<g clip-path="url(#cp11)">
<g filter="url(#n11)">
<rect x="420.7" y="122.2" width="124.45" height="94.40" fill="url(#bg11)"/>
</g>
<g filter="url(#blur05)">
<path d="M507.9 161.2L511.9 158.9M482.4 180.7L486.6 176.5M514.4 143.6L520.6 137.6M509.6 154.2L514.9 152.3M531.3 131.7L535.7 126.7M453.3 145.4L455.5 140.4M446.1 154.1L446.7 146.8M529.2 131.9L534.5 125.9M512.2 173.0L520.0 170.3M512.7 204.9L519.6 205.8M506.3 187.5L514.8 186.3M513.7 199.2L521.0 198.4M471.8 162.9L477.1 158.8M454.2 138.2L457.4 131.9M476.1 161.4L480.4 158.7M533.8 160.8L541.6 159.7M510.0 144.0L512.5 140.7M467.0 165.3L472.2 161.2M499.4 191.6L506.0 191.2M475.4 193.4L481.3 193.1M485.5 200.8L494.3 202.4M517.3 183.8L525.9 183.3M514.4 212.7L519.1 213.5M491.0 130.8L493.1 126.6M487.3 152.2L492.3 149.2M475.9 166.7L479.9 161.0M534.5 132.9L540.1 129.8M465.7 130.1L470.5 123.8M454.4 138.0L458.5 131.8M527.9 147.9L533.5 145.6M531.9 192.8L538.5 190.4M501.0 199.0L507.6 196.8M513.8 202.4L520.3 202.7M488.8 183.4L495.8 180.7M518.5 176.5L525.7 172.1M512.8 185.8L516.7 183.5M427.4 165.0L428.1 158.9M469.8 178.1L473.2 175.3M485.9 194.1L492.2 191.7M531.7 138.6L535.1 134.6M505.9 200.1L512.0 200.7M484.0 176.9L488.1 173.3M478.5 136.6L484.4 130.0M460.7 137.3L462.3 128.7M430.7 135.9L429.9 127.3M497.4 161.7L501.6 158.6M465.7 178.8L473.3 174.5M511.2 202.2L517.2 202.7M492.3 142.1L494.9 137.6M495.2 206.9L503.9 208.6M517.9 197.0L522.9 196.1M502.5 173.9L508.9 169.0M455.8 161.6L459.9 155.2M467.3 168.2L471.4 164.8M443.9 133.8L443.9 126.4M519.4 163.8L523.8 161.4M520.3 199.4L528.8 199.4M506.3 173.1L513.5 169.2M499.1 152.7L504.9 148.0M507.0 189.8L512.6 186.9M530.2 209.1L534.4 208.6M534.4 131.6L537.7 127.4M482.1 135.8L485.3 131.6M503.2 182.3L508.6 180.0M473.5 149.1L475.5 143.9M460.3 129.7L461.8 123.3M532.5 181.9L537.9 178.8M479.3 154.5L481.5 150.6M476.6 192.5L482.2 188.4M486.6 132.3L489.2 126.9M501.5 172.0L506.7 167.8M523.4 210.6L530.0 210.9M529.6 179.8L536.4 177.7M486.4 136.9L489.5 131.1M523.1 165.9L528.3 163.8M536.5 151.2L541.8 147.9M532.8 182.3L540.0 181.0M423.9 132.5L424.8 125.7M498.3 132.7L503.0 126.4M452.2 171.9L456.5 166.3M508.4 159.5L512.7 158.2M523.7 186.3L531.4 185.4M529.7 199.5L536.7 199.1M450.5 130.9L453.6 122.5M484.7 151.7L487.3 147.7M515.5 143.6L518.2 140.1M528.0 147.7L533.2 145.1M454.0 136.5L453.9 131.5M505.6 141.9L510.2 136.4M527.1 196.9L530.9 195.3M473.3 186.4L477.9 184.4M480.3 133.0L482.6 127.4M498.8 199.9L507.1 199.6M530.4 129.1L533.9 126.6M512.5 173.8L520.7 170.9M453.3 176.5L456.3 172.0M473.8 195.9L482.6 194.3M515.2 168.0L519.2 165.3M527.5 207.5L533.5 206.9M455.9 146.5L456.5 140.8M496.8 161.8L500.3 159.7M495.2 182.1L499.0 179.0M502.8 147.4L508.6 144.6M496.7 156.8L500.1 151.6M441.4 173.2L444.0 167.9M471.8 205.7L477.3 205.8M530.9 172.5L538.6 168.6M533.6 143.4L539.6 141.7M492.4 136.6L496.2 133.5M469.5 168.7L472.6 165.3M508.5 197.7L513.3 198.1M529.9 177.7L535.6 175.6M523.5 176.2L531.7 173.9M523.4 208.7L530.4 208.8M536.8 128.5L541.6 124.7M538.8 159.6L544.9 156.6M508.1 128.8L514.1 122.2M466.3 201.1L472.4 200.1M475.2 137.4L477.1 131.1M490.7 144.2L497.8 139.4M434.7 147.4L434.6 142.2M494.8 151.6L497.3 147.7M462.4 169.8L465.7 164.5M499.1 154.4L504.2 151.0M507.4 190.8L516.0 191.2M527.5 143.3L534.4 140.3M523.7 204.5L530.7 203.0M534.0 162.5L537.9 159.5M499.3 185.9L504.7 184.5M485.2 198.3L492.5 194.9M497.6 204.5L502.2 203.2M468.5 150.0L472.6 142.8M521.6 177.7L530.1 174.9M442.4 162.8L444.5 157.6M437.0 162.4L437.0 153.4M527.1 136.4L533.4 131.4M450.2 161.5L453.9 156.0M511.7 171.7L517.2 166.7M444.6 162.3L444.1 154.6M526.1 189.8L530.4 188.1M479.1 155.4L485.8 150.8M425.8 144.8L425.7 138.9M516.3 188.4L524.5 185.4M496.3 155.7L499.5 151.5M537.0 163.3L541.7 161.9M428.9 158.7L427.7 154.4M430.8 136.1L432.1 129.2M501.6 141.2L505.1 138.4M484.2 207.4L490.7 209.2M513.0 190.4L519.7 188.3M468.4 143.0L470.5 139.0M510.0 159.4L513.9 157.0M511.5 198.5L516.0 197.5M478.2 158.4L481.8 154.9M512.7 163.4L519.6 160.8M489.7 133.1L493.3 129.4M518.0 169.4L523.9 167.5M498.3 182.7L505.8 180.1M532.3 206.2L539.8 205.6M497.6 148.5L503.2 142.0M425.4 149.5L425.2 145.0M513.6 163.2L518.2 160.3M496.8 139.1L499.1 134.5M516.9 170.2L523.2 166.9M472.7 139.0L475.4 133.6M531.4 133.5L537.4 130.2M529.3 169.5L533.3 169.1M517.2 183.4L524.9 181.2M427.5 131.6L426.4 127.3M517.1 164.2L525.0 161.1M488.6 147.2L493.7 143.1M536.6 170.2L541.5 167.7M427.4 144.2L424.9 136.0M509.5 141.1L512.6 138.1M478.1 136.6L480.2 131.5M502.0 151.6L505.3 147.5" stroke="#31322d" stroke-width="1.5" stroke-linecap="round" fill="none" opacity="0.6"/>
<path d="M528.2 148.3L532.5 143.5M533.5 182.3L541.0 178.1M526.0 174.8L530.8 174.5M522.2 155.0L527.8 152.8M510.3 210.9L514.4 212.5M511.0 181.3L515.2 180.0M508.5 130.1L512.3 126.1M490.0 142.4L496.0 137.3M487.9 165.9L493.0 161.0M478.6 202.9L482.6 203.7M529.1 150.1L536.4 145.5M513.6 150.3L519.4 146.1M512.0 180.5L517.8 177.7M454.6 144.7L454.6 138.7M471.8 166.9L476.9 159.9M522.6 159.0L527.4 154.9M475.5 140.3L478.4 137.0M523.7 140.7L530.0 135.2M501.4 143.8L506.6 139.1M484.9 205.1L492.4 202.9M453.2 141.3L455.9 136.8M514.1 144.4L519.0 138.7M504.8 174.0L512.1 172.0M506.3 201.5L514.7 202.8M495.7 154.9L499.9 151.7M537.5 192.9L542.8 192.2M463.1 148.6L463.8 144.6M506.7 168.3L513.8 164.1M504.5 161.5L512.0 158.7M492.9 171.8L496.5 169.8M498.1 175.1L504.7 171.3M494.5 150.1L497.6 147.1M506.4 172.5L513.4 171.4M467.3 197.3L473.6 196.5M501.5 199.0L509.8 200.2M536.7 159.9L542.3 157.7M519.7 194.2L526.2 193.8M529.8 173.9L536.5 173.4M473.6 204.9L478.6 206.2M463.3 148.5L465.0 140.5M471.7 164.6L474.1 160.6M536.7 179.9L541.1 177.5M503.3 174.0L507.6 172.9M451.7 156.1L454.6 150.2M484.1 148.6L486.5 145.2M458.1 152.2L462.8 146.2M467.8 137.0L469.1 132.9M479.3 184.1L487.3 182.4M478.7 195.9L485.3 195.0M475.0 152.4L478.4 145.9M507.1 164.8L511.2 162.5M533.8 184.3L538.8 183.6M512.0 199.0L518.4 197.7M482.5 187.9L489.5 182.6M436.6 163.7L438.4 158.3M513.5 145.6L519.3 143.2M532.3 211.9L537.3 211.9M536.5 173.6L542.2 171.2M494.2 147.9L497.8 144.1M524.8 210.9L532.0 210.4M520.3 172.6L527.1 169.8M428.6 143.0L429.8 135.8M518.8 203.8L527.2 203.5M473.1 191.6L480.3 189.8M479.2 166.1L484.3 160.3M535.3 200.1L539.4 199.3M501.1 135.1L503.7 130.2M512.0 159.5L515.0 156.7M477.6 140.5L480.8 132.6M469.7 158.5L473.0 154.6M516.9 202.2L523.3 201.3M535.0 167.7L541.1 164.9M521.0 181.8L528.9 181.2M529.2 174.4L534.8 172.9M521.8 163.5L526.6 162.0M523.6 129.8L526.5 126.4M537.0 175.4L544.7 172.0M483.1 170.3L486.6 165.5M524.9 178.0L529.1 177.4M455.0 131.5L455.6 123.5M473.4 136.8L477.1 130.8M529.7 147.1L536.4 142.0M447.2 141.8L448.8 135.2M500.3 193.3L507.6 191.4M495.3 150.5L499.3 143.6M538.2 189.9L545.6 187.3M482.1 204.6L490.0 204.0M496.5 139.4L500.6 135.1M486.7 176.2L494.7 173.1M493.4 209.4L499.6 210.2M486.3 199.5L492.1 198.6M490.9 165.2L499.2 162.3M491.7 168.2L495.4 164.2M485.7 185.2L492.5 180.9M529.4 212.0L533.8 212.6M470.3 135.9L472.5 129.2M499.2 178.3L504.8 176.0M478.8 168.8L481.8 164.6M501.8 130.2L508.4 125.6M530.1 144.0L536.0 138.4M453.3 139.2L455.6 134.2M527.4 131.1L535.1 127.0M495.3 212.9L503.5 212.3M470.4 169.6L473.8 164.8M468.0 149.8L471.6 146.4M521.8 179.8L527.7 177.8M535.7 178.7L542.9 174.4M510.4 209.2L518.7 209.1M493.9 191.5L502.7 189.6M427.7 152.3L426.4 146.9" stroke="#b4b5a8" stroke-width="0.8" stroke-linecap="round" fill="none" opacity="0.5"/>
</g>
<g filter="url(#rough)">
<polygon points="518.5,122.3 548.3,122.3 548.3,218.5 528.8,218.5 520.8,204.8 511.6,188.7 497.9,177.3 505.9,158.9 511.6,142.9" fill="#45433a" />
</g>
<g filter="url(#blur05)" stroke="#7c7d70" stroke-width="0.7" fill="none" opacity="0.7">
<path d="M497.9 177.3L527.7 158.9L543.7 154.4M511.6 188.7L527.7 193.3L543.7 199.0M524.2 129.2L527.7 158.9L539.1 169.3"/>
</g>
<circle cx="526.5" cy="179.1" r="2.4" fill="#a3a37a" filter="url(#blur05)"/><circle cx="537.3" cy="188.3" r="2.2" fill="#9b9b76" filter="url(#blur05)"/>
</g>
<g clip-path="url(#cp20)">
<g filter="url(#n20)">
<rect x="298.0" y="215.9" width="124.25" height="94.70" fill="#827e7e"/>
<g filter="url(#blur15)" fill="#928670" opacity="0.85">
<circle cx="333.5" cy="250.7" r="8.7"/>
<circle cx="369.0" cy="230.0" r="6.9"/>
<circle cx="398.8" cy="246.1" r="6.9"/>
<circle cx="359.9" cy="262.1" r="6.0"/>
<circle cx="339.2" cy="287.3" r="7.3"/>
<circle cx="386.2" cy="295.3" r="6.0"/>
<circle cx="311.7" cy="271.3" r="5.5"/>
</g></g>
<g filter="url(#n10b)"><g filter="url(#rough)" fill="#656367">
<ellipse cx="309.5" cy="230.0" rx="8.5" ry="6.9"/>
<ellipse cx="315.2" cy="257.5" rx="9.9" ry="8.1"/>
<ellipse cx="366.7" cy="244.9" rx="7.1" ry="5.8"/>
<ellipse cx="391.9" cy="239.2" rx="8.5" ry="6.9"/>
<ellipse cx="382.8" cy="222.0" rx="7.1" ry="5.8"/>
<ellipse cx="412.5" cy="236.9" rx="8.5" ry="6.9"/>
<ellipse cx="353.0" cy="277.0" rx="8.5" ry="6.9"/>
<ellipse cx="373.6" cy="285.0" rx="9.9" ry="8.1"/>
<ellipse cx="411.4" cy="270.1" rx="8.5" ry="6.9"/>
<ellipse cx="396.5" cy="293.0" rx="7.1" ry="5.8"/>
<ellipse cx="320.9" cy="294.2" rx="7.1" ry="5.8"/>
<ellipse cx="412.5" cy="302.2" rx="7.1" ry="5.8"/>
<ellipse cx="343.8" cy="222.0" rx="5.6" ry="4.6"/>
<ellipse cx="375.9" cy="259.8" rx="4.2" ry="3.5"/>
<ellipse cx="403.4" cy="220.9" rx="4.2" ry="3.5"/>
<ellipse cx="307.2" cy="282.7" rx="4.0" ry="3.2"/>
<ellipse cx="332.4" cy="235.8" rx="4.5" ry="3.7"/>
<ellipse cx="347.3" cy="241.5" rx="4.0" ry="3.2"/>
<ellipse cx="327.8" cy="272.4" rx="4.5" ry="3.7"/>
<ellipse cx="417.1" cy="287.3" rx="4.5" ry="3.7"/>
<ellipse cx="362.1" cy="303.3" rx="4.5" ry="3.7"/>
<ellipse cx="304.9" cy="243.8" rx="4.0" ry="3.2"/>
</g></g>
</g>
<g clip-path="url(#cp21)">
<g filter="url(#n21)">
<rect x="420.7" y="215.9" width="124.45" height="94.70" fill="url(#bg21)"/>
</g>
<g filter="url(#blur05)">
<path d="M497.4 244.0L503.1 241.5M508.1 251.1L508.7 245.0M528.3 240.2L530.9 232.1M504.8 232.1L509.2 230.3M490.4 298.2L499.2 297.7M470.0 230.9L466.8 227.3M491.0 262.3L496.2 255.6M532.4 221.7L532.2 217.3M441.5 246.5L441.2 242.3M469.2 242.7L468.3 237.0M463.1 234.4L458.0 227.9M491.1 231.7L499.6 232.6M501.0 244.8L504.5 242.3M516.0 299.6L523.1 301.0M528.5 262.4L533.7 264.9M482.2 247.9L486.4 247.7M465.6 254.9L468.8 248.8M486.8 221.8L489.8 217.5M476.6 274.5L481.2 271.6M537.0 292.7L543.6 286.9M504.1 237.2L508.8 233.2M525.1 241.0L523.9 233.6M504.9 262.8L504.4 255.9M527.4 309.9L534.4 304.5M530.9 298.1L537.1 294.2M520.3 306.7L525.6 306.1M521.6 238.0L521.6 233.2M506.1 304.2L512.4 310.5M502.5 281.4L506.5 275.6M517.7 275.6L522.4 279.3M475.3 253.5L479.7 253.3M516.9 246.5L517.5 241.3M528.5 268.4L532.0 272.3M521.3 263.1L528.3 263.9M502.8 270.8L503.7 266.8M428.0 232.5L428.7 225.8M424.1 252.0L428.1 244.8M522.3 289.6L531.2 289.7M461.4 241.3L457.6 238.0M447.1 237.5L448.3 230.9M502.2 282.7L506.0 280.4M428.8 266.7L428.2 260.8M446.5 239.5L448.5 234.1M426.7 229.6L422.6 225.2M537.1 224.4L538.0 219.4M492.7 244.5L500.3 240.3M477.0 227.3L474.3 223.5M519.9 272.2L526.7 276.5M425.3 241.3L424.3 236.4M431.0 228.5L433.5 220.4M474.7 254.1L481.4 252.4M441.9 257.1L439.1 248.8M510.2 235.5L512.2 229.8M518.1 256.0L519.9 251.9M519.9 232.1L519.2 225.1M534.4 280.7L542.1 277.4M464.2 234.5L461.2 228.4M497.4 246.5L501.4 241.8M453.2 227.1L454.6 218.4M517.1 264.8L525.7 267.5M484.4 222.2L483.1 216.8M518.5 299.0L526.9 299.6M471.4 238.1L469.0 231.8M510.1 269.2L517.0 264.2M433.1 236.7L436.7 233.6M520.6 303.2L527.3 301.7M433.6 245.4L437.0 237.8M509.8 300.9L511.6 306.0M455.5 224.9L456.3 216.2M478.7 222.6L472.4 216.2M527.9 260.0L535.6 261.5M459.5 226.9L460.1 217.9M483.3 234.5L489.6 232.0M521.0 233.5L522.0 229.0M492.4 266.4L496.6 259.8M501.4 277.5L502.3 270.8M534.2 265.1L539.0 265.7M537.5 283.6L543.3 277.8M535.5 282.2L541.7 277.7M470.8 257.1L476.7 256.7M482.9 239.8L491.5 240.3M505.0 286.0L511.6 288.5M432.8 233.2L437.8 227.7M489.0 224.9L497.2 222.3M494.9 272.3L497.1 266.4M527.4 261.6L532.2 263.5M488.5 229.1L495.8 224.7M527.9 242.6L530.6 235.4M425.9 240.2L427.6 231.7M520.7 240.9L522.2 232.2M504.3 218.6L511.5 219.2M537.0 271.5L542.9 270.6M481.3 231.4L481.9 223.7M527.5 241.2L534.5 235.6M488.3 260.1L491.2 257.2M527.4 295.6L534.3 291.2M532.1 241.1L537.9 241.0M515.6 285.0L520.5 287.5M466.0 237.2L462.2 233.2M533.7 245.6L541.0 250.3M472.0 245.5L477.9 238.9M533.3 243.1L540.2 240.4M491.2 227.3L499.5 226.0M487.6 265.4L491.6 259.3M489.5 285.1L490.5 281.0M481.8 240.6L487.8 236.2M527.0 241.3L528.3 235.6M521.9 256.1L526.7 255.0M513.8 301.0L516.7 304.3M482.1 230.9L482.4 224.5M505.6 229.9L509.7 226.3M516.3 237.2L515.9 229.2M517.9 278.4L523.1 282.6M529.6 285.3L535.5 284.9M538.1 276.2L542.8 274.5M520.3 278.2L525.0 283.0M459.2 236.1L457.4 228.0M479.9 224.1L477.7 217.4M506.5 270.4L511.3 266.1M531.7 231.4L534.1 225.4M532.7 259.9L539.2 264.9M503.4 231.9L510.1 230.0M511.6 249.8L509.9 242.2M483.8 228.5L484.9 220.4M468.8 239.8L463.1 234.4M430.5 225.5L429.7 219.2M525.8 306.7L531.1 302.7M512.5 301.4L518.7 306.0M470.9 222.1L469.3 217.9M451.0 233.6L453.9 226.7M526.6 256.8L530.5 257.5M502.3 277.1L503.2 268.3M527.9 225.1L528.4 218.5M514.4 257.4L513.1 249.1M496.5 228.5L501.7 228.4M527.6 239.8L527.5 232.9M516.5 277.2L523.3 282.7M491.9 283.8L495.9 276.3M528.7 302.4L532.2 299.7M436.5 245.6L439.3 239.7M502.3 298.9L507.2 303.9M500.8 283.2L507.0 278.6M503.2 225.6L509.8 225.0M472.3 241.4L473.8 236.9M536.6 247.6L543.1 248.7M537.6 237.5L545.8 235.1M494.2 235.5L498.7 234.4M536.2 239.7L541.2 238.7M485.6 253.2L494.0 250.6M491.7 223.6L499.0 221.5M537.0 244.6L542.9 246.5M498.1 254.4L502.9 248.9M492.0 305.3L496.0 309.4M499.1 293.3L506.1 296.0M520.4 231.7L521.2 227.0M520.9 253.9L526.7 251.5M514.5 233.1L515.4 224.3M462.8 228.2L461.1 220.3M453.3 227.1L454.3 221.9M507.9 277.5L514.0 273.8M495.6 228.4L500.5 228.9M492.5 219.9L496.6 218.8" stroke="#31322d" stroke-width="1.5" stroke-linecap="round" fill="none" opacity="0.6"/>
<path d="M517.1 288.7L520.0 293.4M444.0 234.3L448.6 228.7M520.0 281.1L526.0 283.7M507.4 301.9L509.6 308.5M455.1 242.1L452.4 234.1M514.1 266.9L520.7 264.5M484.4 244.7L491.4 242.1M428.4 259.6L430.7 250.9M498.9 249.7L501.7 244.8M469.0 233.8L464.8 226.8M455.9 232.5L456.6 226.6M470.7 237.0L469.4 231.9M529.5 243.0L534.0 237.2M522.2 251.7L528.1 249.7M481.2 232.4L484.3 225.0M512.9 276.8L519.0 277.3M507.9 228.4L515.2 223.6M490.5 251.4L498.0 247.7M498.4 225.5L502.7 224.2M513.2 241.3L515.5 233.0M492.8 304.7L497.4 310.4M437.0 232.0L443.1 227.7M538.4 230.6L541.5 226.6M475.9 240.7L478.0 235.9M472.9 233.5L467.5 228.7M508.2 296.0L511.4 300.2M515.5 261.9L519.1 258.7M531.0 246.5L538.5 246.1M436.7 261.1L433.2 253.1M504.9 270.8L505.3 263.6M530.6 253.6L539.5 254.7M451.6 245.3L448.8 241.4M470.3 232.9L463.7 227.5M488.1 230.7L492.2 229.5M427.9 244.7L429.6 237.1M486.5 274.9L489.7 269.6M515.8 231.0L518.2 224.8M515.2 266.1L520.7 261.9M535.3 282.2L539.4 280.9M495.2 281.2L495.3 274.9M449.0 227.8L453.3 222.1M476.7 226.7L473.2 218.7M481.0 295.5L483.6 287.0M527.7 263.8L533.4 270.1M521.3 298.0L528.6 298.1M474.7 238.6L476.3 233.9M538.9 236.7L543.0 236.3M520.7 287.1L523.9 290.4M470.5 249.9L477.0 245.1M529.3 265.5L533.0 267.8M528.0 295.5L535.1 291.9M488.9 237.8L496.5 236.7M493.5 245.5L498.6 243.2M453.8 231.9L454.8 224.8M452.7 247.8L446.4 241.5M456.6 235.8L454.3 230.0M493.1 236.0L498.3 234.7M481.2 241.0L485.9 239.4M504.7 250.8L508.4 243.0M533.5 264.1L540.0 268.3M428.0 225.0L424.7 219.3M489.9 296.8L495.9 292.0M497.3 248.9L499.9 245.2M525.5 306.2L529.8 303.7M480.3 240.2L487.5 238.5M534.3 268.1L539.2 269.9M467.6 233.2L463.3 230.3M447.0 249.2L445.9 244.6M508.8 256.2L510.7 250.9M517.5 261.2L521.6 257.9M448.6 237.4L449.5 232.5M473.3 255.3L479.4 255.0M472.9 239.5L472.2 232.8M517.8 246.0L518.8 237.2M432.2 268.3L428.3 263.2M509.2 265.7L511.5 257.6M462.6 223.2L460.5 215.1M444.4 259.7L437.7 254.5M478.0 235.4L481.9 229.9M453.5 253.7L449.1 250.9M485.9 231.0L492.2 226.6M461.1 237.0L457.5 233.6M510.8 256.0L513.1 249.8M507.4 292.1L511.6 300.1M537.9 223.0L540.9 217.9M527.6 257.2L534.9 259.0M489.0 237.9L494.5 238.0M459.3 229.5L456.4 222.3M498.4 221.5L506.6 221.5M514.2 270.8L520.1 268.9M474.8 260.1L481.4 260.8M516.0 274.4L522.0 280.1M499.0 288.2L507.2 285.5M455.0 240.6L450.8 234.8M496.0 296.0L500.8 295.8M506.0 252.2L507.8 247.8" stroke="#b4b5a8" stroke-width="0.8" stroke-linecap="round" fill="none" opacity="0.5"/>
</g>
<g filter="url(#rough)">
<polygon points="421.1,234.6 437.2,232.3 445.2,243.8 441.8,257.5 429.2,261.0 421.1,252.9" fill="#48463d" />
<polygon points="477.3,216.3 500.2,216.3 497.9,231.2 485.3,233.5 478.4,227.7" fill="#48463d" />
<polygon points="488.7,244.9 509.3,243.8 511.6,255.2 495.6,258.7" fill="#48463d" />
<polygon points="516.2,254.1 544.9,251.8 544.9,280.4 527.7,279.3 518.5,267.8" fill="#48463d" />
<polygon points="488.7,298.8 507.1,299.9 508.2,311.4 487.6,311.4" fill="#48463d" />
<polygon points="531.1,280.4 544.9,281.6 544.9,305.6 533.4,304.5" fill="#48463d" />
<polygon points="421.1,266.7 430.3,269.0 429.2,280.4 421.1,282.7" fill="#48463d" />
</g>
</g>
</g>
<g id="panelD">
<text x="284.2" y="337.0" font-size="18.4" text-anchor="start" fill="#000" >D</text>
<text x="315.2" y="337.7" font-size="10.6" text-anchor="start" fill="#2a2a2a" stroke="#2a2a2a" stroke-width="0.22" textLength="31.0" lengthAdjust="spacingAndGlyphs" >STC-1</text>
<line x1="302.4" x2="356.5" y1="341.9" y2="341.9" stroke="#111" stroke-width="1.25"/>
<text x="317.6" y="355.5" font-size="9.6" font-weight="bold" text-anchor="middle" fill="#111" stroke="#111" stroke-width="0.3">+</text>
<text x="341.0" y="355.5" font-size="9.6" font-weight="bold" text-anchor="middle" fill="#111" stroke="#111" stroke-width="0.3">−</text>
<text x="317.6" y="369.9" font-size="9.6" font-weight="bold" text-anchor="middle" fill="#111" stroke="#111" stroke-width="0.3">−</text>
<text x="341.4" y="369.9" font-size="9.6" font-weight="bold" text-anchor="middle" fill="#111" stroke="#111" stroke-width="0.3">+</text>
<text x="370.0" y="354.9" font-size="7.9" text-anchor="start" fill="#2a2a2a" stroke="#2a2a2a" stroke-width="0.22" textLength="66.8" lengthAdjust="spacingAndGlyphs" >Control IgG-DT3C</text>
<text x="369.7" y="369.2" font-size="7.9" text-anchor="start" fill="#2a2a2a" stroke="#2a2a2a" stroke-width="0.22" textLength="49.9" lengthAdjust="spacingAndGlyphs" >HSL175-DT3C</text>
<text x="366.5" y="392.0" font-size="9.2" text-anchor="start" fill="#2a2a2a" stroke="#2a2a2a" stroke-width="0.22" textLength="59.2" lengthAdjust="spacingAndGlyphs" >Cleaved PARP</text>
<text x="367.3" y="416.4" font-size="9.4" text-anchor="start" fill="#2a2a2a" stroke="#2a2a2a" stroke-width="0.22" textLength="30.6" lengthAdjust="spacingAndGlyphs" >β-actin</text>
<rect x="303.3" y="377.0" width="53.4" height="20.6" fill="url(#blotbg)" stroke="#222" stroke-width="0.9"/>
<rect x="303.3" y="402.9" width="53.4" height="18.7" fill="#f3f3f3" stroke="#222" stroke-width="0.9"/>
<g filter="url(#blur1)">
<path d="M309.8 388.2 Q318.2 391.6 326.6 388.6" stroke="#5e5e5e" stroke-width="2.3" fill="none" stroke-linecap="round"/>
<path d="M333 388.0 Q341.5 391.8 350.2 387.6" stroke="#1a1a1a" stroke-width="3.3" fill="none" stroke-linecap="round"/>
<path d="M309.6 413.5 Q318 414.6 326 413.6" stroke="#1a1a1a" stroke-width="3.3" fill="none" stroke-linecap="round"/>
<path d="M332.6 413.6 Q341 415.0 349 413.4" stroke="#1a1a1a" stroke-width="3.3" fill="none" stroke-linecap="round"/>
</g>
</g>
</svg></body></html>
